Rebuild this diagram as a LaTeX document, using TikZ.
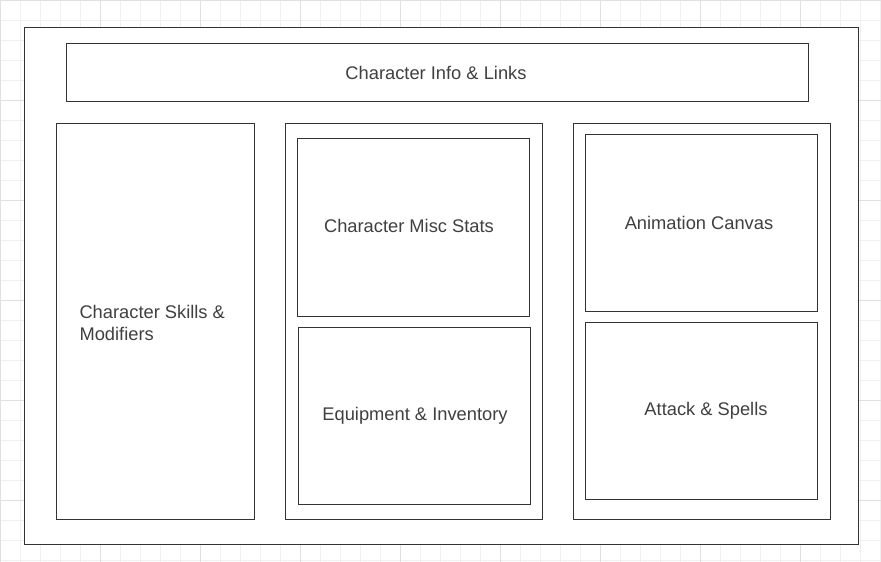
\documentclass[tikz,border=0pt]{standalone}
\usepackage{fontspec}
\setmainfont{Liberation Sans}
\definecolor{txt}{HTML}{404040}
\definecolor{gridminor}{HTML}{F0F0F0}
\definecolor{gridmajor}{HTML}{E0E0E0}
\begin{document}
\begin{tikzpicture}[x=1pt,y=-1pt,
  box/.style={draw=black!80,line width=0.7pt,fill=white},
  lbl/.style={text=txt,font=\fontsize{18.3}{22}\selectfont}]
\useasboundingbox (0,0) rectangle (881,562);
\fill[white] (0,0) rectangle (881,562);
\foreach \i in {0,20,...,880} \draw[gridminor,line width=0.6pt] (\i,0) -- (\i,562);
\foreach \j in {0,20,...,560} \draw[gridminor,line width=0.6pt] (0,\j) -- (881,\j);
\foreach \i in {0,100,...,800} \draw[gridmajor,line width=0.6pt] (\i,0) -- (\i,562);
\foreach \j in {0,100,...,500} \draw[gridmajor,line width=0.6pt] (0,\j) -- (881,\j);
\draw[box] (24,27) rectangle (858,544);
\draw[box] (66,43) rectangle (808,101);
\node[lbl] (info) at (436,73) {Character Info \& Links};
\draw[box] (56,123) rectangle (254,519);
\node[lbl,align=left,anchor=west] (skills) at (76,323) {Character Skills \&\\Modifiers};
\draw[box] (285,123) rectangle (542,519);
\draw[box] (297,138) rectangle (529,316);
\node[lbl] (misc) at (409,226) {Character Misc Stats};
\draw[box] (298,327) rectangle (530,504);
\node[lbl] (equip) at (415,416) {Equipment \& Inventory};
\draw[box] (573,123) rectangle (830,519);
\draw[box] (585,134) rectangle (817,311);
\node[lbl] (anim) at (699,223) {Animation Canvas};
\draw[box] (585,322) rectangle (817,499);
\node[lbl] (atk) at (706,411) {Attack \& Spells};
\end{tikzpicture}
\end{document}
